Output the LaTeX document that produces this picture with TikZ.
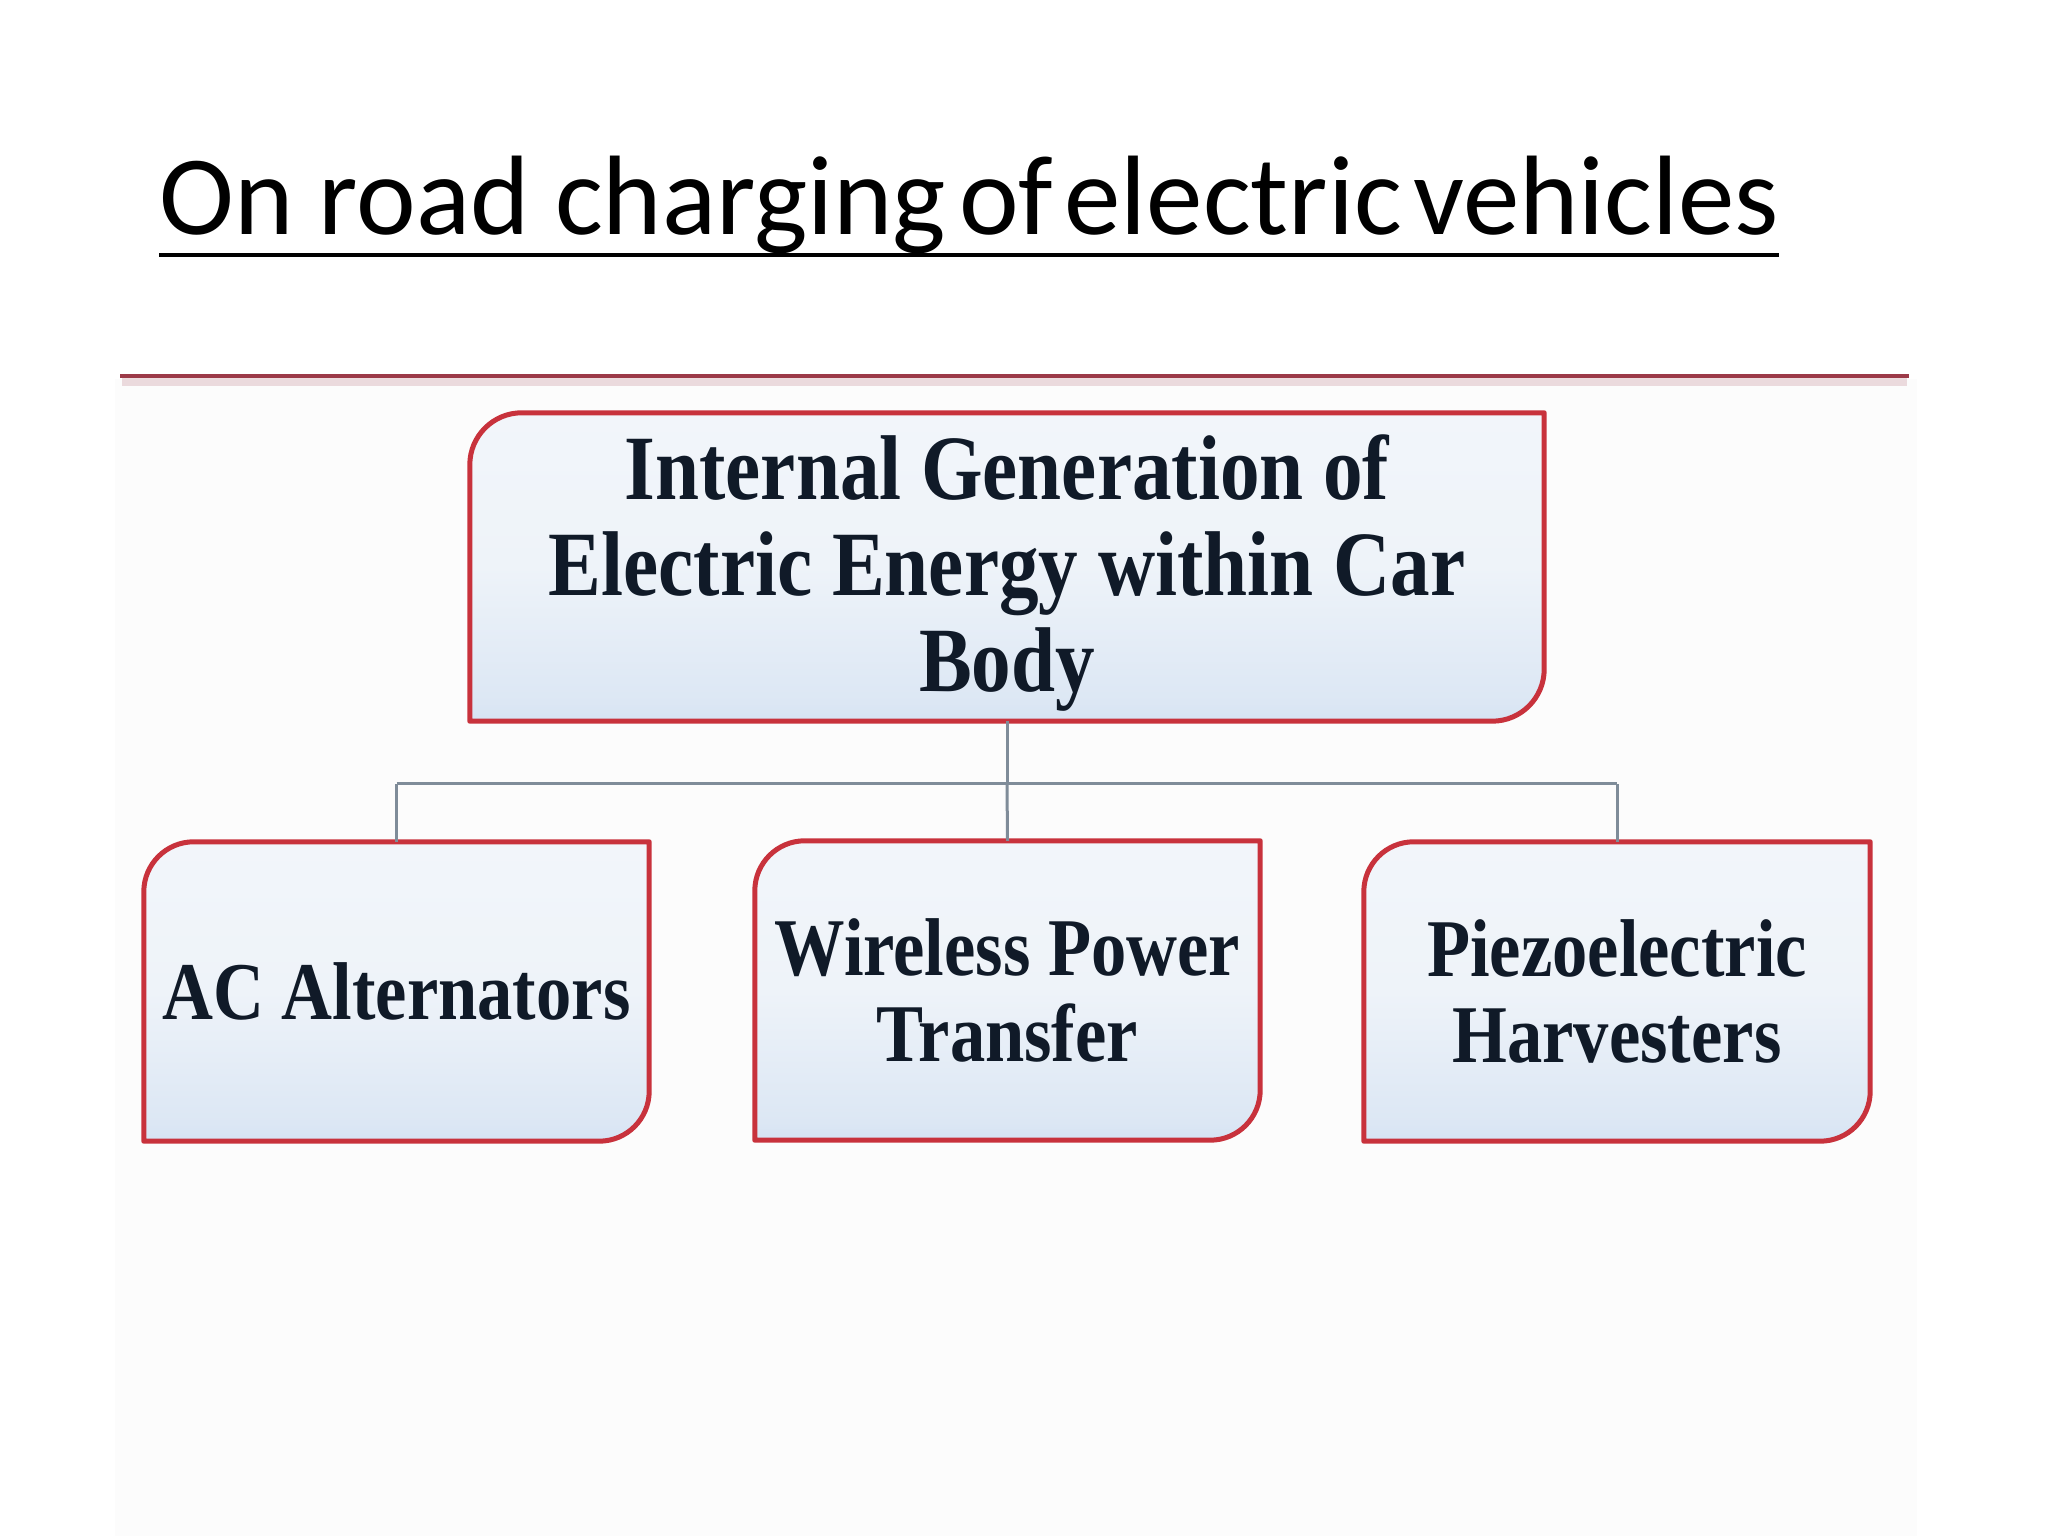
\documentclass[tikz,border=0pt]{standalone}
\usepackage{fontspec}
\setmainfont{Carlito}
\newfontfamily\boxfont[FakeStretch=0.86,BoldFont={Liberation Serif Bold}]{Liberation Serif}
\definecolor{boxred}{HTML}{C8323C}
\definecolor{rulered}{HTML}{9C3A48}
\definecolor{linkgray}{HTML}{7F8C99}
\definecolor{inktext}{HTML}{101A28}
\definecolor{shA}{HTML}{A3C2E8}
\definecolor{shB}{HTML}{B7D0EC}
\definecolor{shC}{HTML}{DCE7F4}
\definecolor{shD}{HTML}{EEF3F9}
\definecolor{shE}{HTML}{F6F8FB}
\pgfdeclareverticalshading{boxshade}{100bp}{
  color(0bp)=(shA);
  color(12bp)=(shB);
  color(28bp)=(shC);
  color(50bp)=(shD);
  color(100bp)=(shE)}
\tikzset{
  boxtext/.style={inner sep=0pt, align=center, text=inktext, font=\boxfont\bfseries},
  link/.style={draw=linkgray, line width=3pt},
}
\newcommand{\cutbox}[2]{%
  \path[shading=boxshade, draw=boxred, line width=5pt, line join=round]
    (#1.south west) -- ([yshift=-#2]#1.north west)
    arc[start angle=180, end angle=90, radius=#2]
    -- (#1.north east) -- ([yshift=#2]#1.south east)
    arc[start angle=0, end angle=-90, radius=#2] -- cycle;}
\begin{document}
\begin{tikzpicture}[x=1pt,y=1pt]
\useasboundingbox (0,0) rectangle (2048,1536);
\fill[white] (0,0) rectangle (2048,1536);
% faint pasted-image background
\fill[black!1] (115,0) rectangle (1917,1157);
% red rule with soft shadow
\draw[rulered!35, line width=9pt, opacity=0.5] (122,1154) -- (1907,1154);
\draw[rulered, line width=4.5pt] (120,1160) -- (1909,1160);
% title
\node[anchor=base west, inner sep=0pt, font=\fontsize{113}{125}\selectfont] (title) at (159,1301)
  {On road charging\hspace{0.12em}of\hspace{0.1em}electric\hspace{0.1em}vehicles};
\draw[line width=4pt] ([yshift=-20pt]title.base west) -- ([yshift=-20pt]title.base east);
% box frames (shape nodes only)
\node[minimum width=1074pt, minimum height=308pt, inner sep=0pt] (topf) at (1007,969) {};
\node[minimum width=505pt, minimum height=299pt, inner sep=0pt] (af) at (396.5,544.5) {};
\node[minimum width=505pt, minimum height=299pt, inner sep=0pt] (wf) at (1007.5,545.5) {};
\node[minimum width=506pt, minimum height=299pt, inner sep=0pt] (pf) at (1617,544.5) {};
\cutbox{topf}{52pt}
\cutbox{af}{50pt}
\cutbox{wf}{50pt}
\cutbox{pf}{50pt}
% texts
\node[boxtext, font=\boxfont\bfseries\fontsize{92}{96}\selectfont] (top) at ([yshift=-6pt]topf.center)
  {Internal Generation of\\Electric Energy within Car\\Body};
\node[boxtext, font=\boxfont\bfseries\fontsize{82}{86}\selectfont] (ac) at (af.center) {AC Alternators};
\node[boxtext, font=\boxfont\bfseries\fontsize{82}{86}\selectfont] (wpt) at (wf.center) {Wireless Power\\Transfer};
\node[boxtext, font=\boxfont\bfseries\fontsize{82}{86}\selectfont] (pz) at (pf.center) {Piezoelectric\\Harvesters};
% connectors
\coordinate (j) at (1007,752);
\draw[link] (topf.south) -- (j);
\draw[link] (af.north |- j) -- (pf.north |- j);
\draw[link] (af.north |- j) -- (af.north);
\draw[link] (j) -- (wf.north);
\draw[link] (pf.north |- j) -- (pf.north);
\end{tikzpicture}
\end{document}
